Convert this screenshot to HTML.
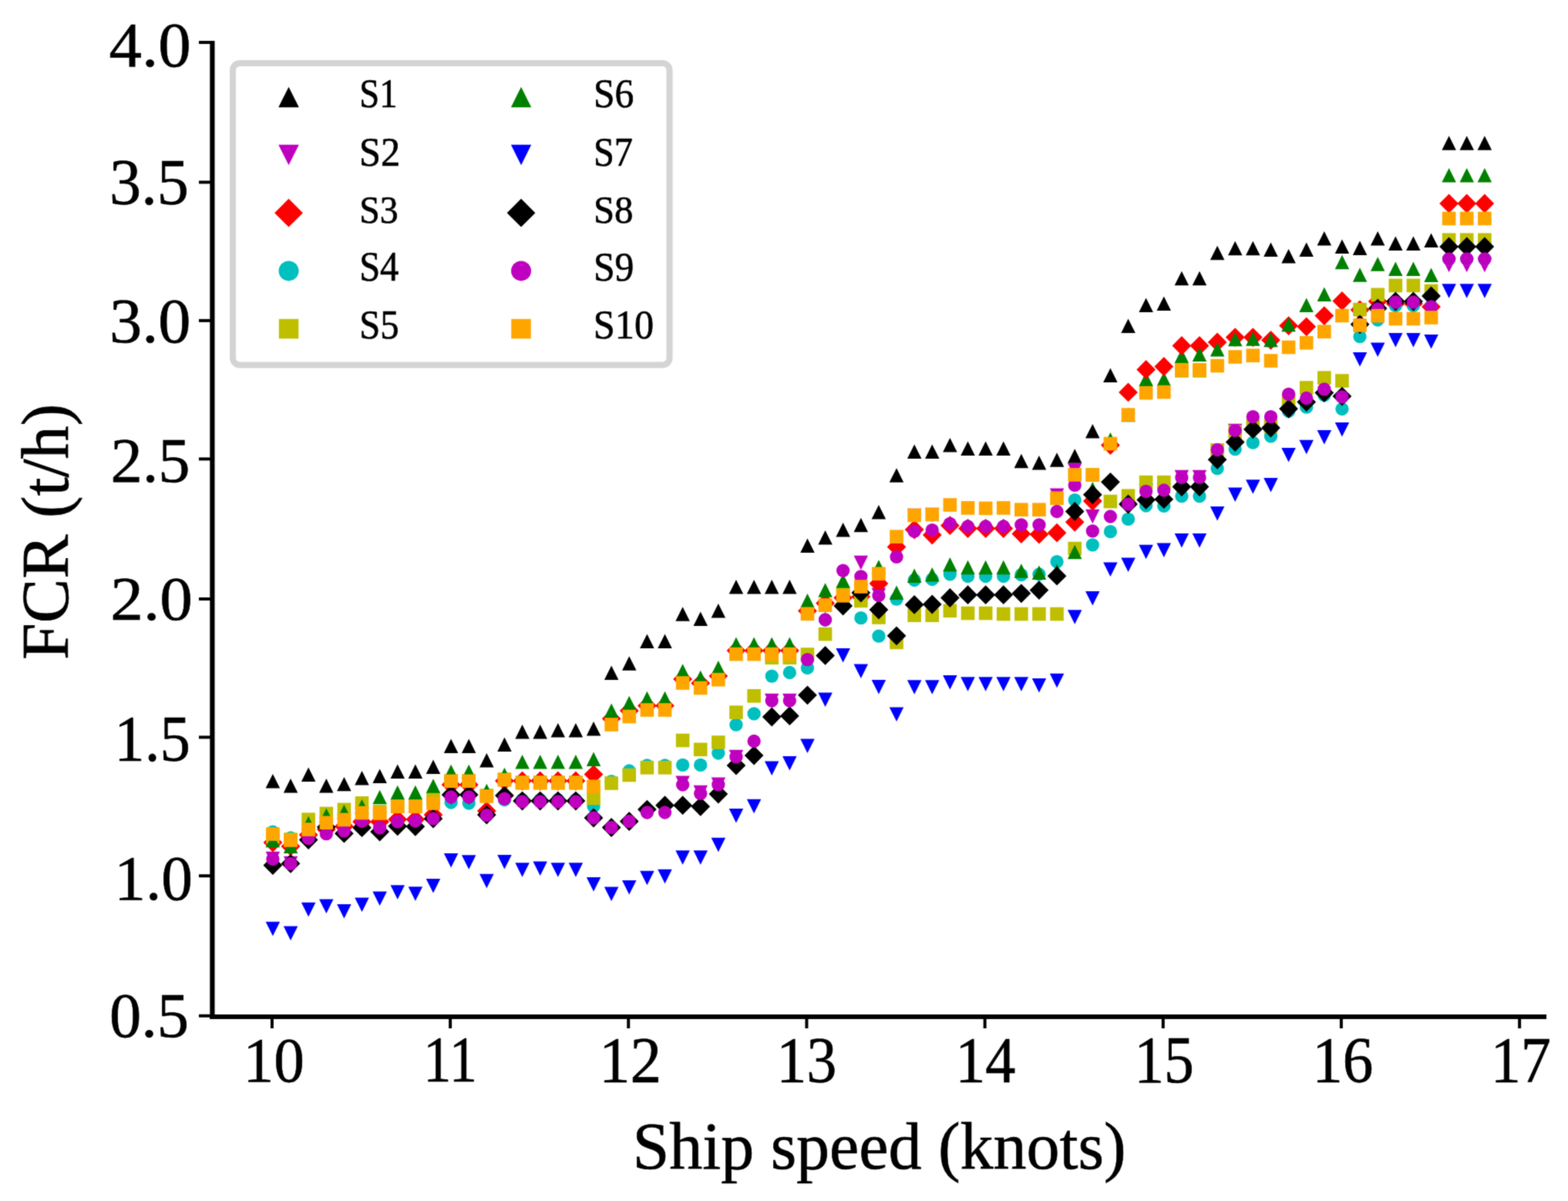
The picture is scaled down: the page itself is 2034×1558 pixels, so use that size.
<!DOCTYPE html>
<html><head><meta charset="utf-8"><title>FCR vs Ship speed</title>
<style>html,body{margin:0;padding:0;background:#fff;overflow:hidden}svg{display:block}text{stroke:#000;stroke-width:0.7px}</style>
</head><body><svg width="2034" height="1558" viewBox="0 0 2034 1558" font-family="'Liberation Serif', 'Times New Roman', serif" fill="#000"><defs><filter id="soft" x="0" y="0" width="2034" height="1558" filterUnits="userSpaceOnUse" color-interpolation-filters="sRGB"><feConvolveMatrix order="3" kernelMatrix="1 4 1 4 16 4 1 4 1" divisor="36" edgeMode="duplicate"/></filter></defs><g filter="url(#soft)"><rect x="0" y="0" width="2034" height="1558" fill="#fff"/><line x1="275.4" y1="53" x2="275.4" y2="1322" stroke="#000" stroke-width="6.2"/><line x1="272.3" y1="1319" x2="2006" y2="1319" stroke="#000" stroke-width="6.2"/><line x1="258" y1="1317.8" x2="273" y2="1317.8" stroke="#000" stroke-width="4"/><text transform="translate(141.92,1344.78) scale(0.9604,0.9583)" font-size="86">0.5</text><line x1="258" y1="1136.2" x2="273" y2="1136.2" stroke="#000" stroke-width="4"/><text transform="translate(148.17,1166.8) scale(0.9469,0.9517)" font-size="86">1.0</text><line x1="258" y1="956.4" x2="273" y2="956.4" stroke="#000" stroke-width="4"/><text transform="translate(148.28,986.51) scale(0.9165,0.9914)" font-size="86">1.5</text><line x1="258" y1="777.0" x2="273" y2="777.0" stroke="#000" stroke-width="4"/><text transform="translate(143.33,803.71) scale(0.9902,0.9467)" font-size="86">2.0</text><line x1="258" y1="595.4" x2="273" y2="595.4" stroke="#000" stroke-width="4"/><text transform="translate(143.42,625.43) scale(0.9594,0.9695)" font-size="86">2.5</text><line x1="258" y1="415.9" x2="273" y2="415.9" stroke="#000" stroke-width="4"/><text transform="translate(141.97,443.56) scale(0.9822,0.9683)" font-size="86">3.0</text><line x1="258" y1="236.4" x2="273" y2="236.4" stroke="#000" stroke-width="4"/><text transform="translate(142.08,265.41) scale(0.955,0.9949)" font-size="86">3.5</text><line x1="258" y1="55.0" x2="273" y2="55.0" stroke="#000" stroke-width="4"/><text transform="translate(141.51,85.87) scale(0.9875,0.9633)" font-size="86">4.0</text><line x1="352.9" y1="1321" x2="352.9" y2="1334" stroke="#000" stroke-width="4"/><text transform="translate(315.55,1403.07) scale(0.9211,0.9667)" font-size="86">10</text><line x1="584.1" y1="1321" x2="584.1" y2="1334" stroke="#000" stroke-width="4"/><text transform="translate(549.22,1403.21) scale(0.8394,0.9897)" font-size="86">11</text><line x1="815.2" y1="1321" x2="815.2" y2="1334" stroke="#000" stroke-width="4"/><text transform="translate(776.89,1404.03) scale(0.944,0.9746)" font-size="86">12</text><line x1="1046.4" y1="1321" x2="1046.4" y2="1334" stroke="#000" stroke-width="4"/><text transform="translate(1007.24,1404.02) scale(0.9092,0.9831)" font-size="86">13</text><line x1="1277.6" y1="1321" x2="1277.6" y2="1334" stroke="#000" stroke-width="4"/><text transform="translate(1239.15,1403.51) scale(0.9077,0.9914)" font-size="86">14</text><line x1="1508.8" y1="1321" x2="1508.8" y2="1334" stroke="#000" stroke-width="4"/><text transform="translate(1471.29,1403.9) scale(0.9013,1.0034)" font-size="86">15</text><line x1="1739.9" y1="1321" x2="1739.9" y2="1334" stroke="#000" stroke-width="4"/><text transform="translate(1702.25,1404.21) scale(0.9208,0.9915)" font-size="86">16</text><line x1="1971.1" y1="1321" x2="1971.1" y2="1334" stroke="#000" stroke-width="4"/><text transform="translate(1933.64,1403.51) scale(0.9091,0.9914)" font-size="86">17</text><text x="1140.5" y="1516" text-anchor="middle" font-size="86">Ship speed (knots)</text><text transform="translate(88,690) rotate(-90)" text-anchor="middle" font-size="86">FCR (t/h)</text><path d="M353.9,1003.9L363.1,1022.4L344.6,1022.4Z" fill="#000000"/><path d="M377.0,1010.0L386.3,1028.5L367.8,1028.5Z" fill="#000000"/><path d="M400.1,995.5L409.4,1014.0L390.9,1014.0Z" fill="#000000"/><path d="M423.3,1010.0L432.5,1028.5L414.0,1028.5Z" fill="#000000"/><path d="M446.4,1007.9L455.6,1026.3L437.1,1026.3Z" fill="#000000"/><path d="M469.5,1000.0L478.7,1018.5L460.2,1018.5Z" fill="#000000"/><path d="M492.6,997.6L501.9,1016.1L483.4,1016.1Z" fill="#000000"/><path d="M515.7,991.5L525.0,1010.0L506.5,1010.0Z" fill="#000000"/><path d="M538.8,991.5L548.1,1010.0L529.6,1010.0Z" fill="#000000"/><path d="M562.0,985.4L571.2,1003.9L552.7,1003.9Z" fill="#000000"/><path d="M585.1,958.5L594.3,977.0L575.8,977.0Z" fill="#000000"/><path d="M608.2,958.5L617.4,977.0L598.9,977.0Z" fill="#000000"/><path d="M631.3,977.1L640.6,995.6L622.1,995.6Z" fill="#000000"/><path d="M654.4,956.5L663.7,975.0L645.2,975.0Z" fill="#000000"/><path d="M677.5,940.0L686.8,958.5L668.3,958.5Z" fill="#000000"/><path d="M700.7,940.0L709.9,958.5L691.4,958.5Z" fill="#000000"/><path d="M723.8,938.0L733.0,956.5L714.5,956.5Z" fill="#000000"/><path d="M746.9,938.0L756.1,956.5L737.6,956.5Z" fill="#000000"/><path d="M770.0,936.0L779.3,954.5L760.8,954.5Z" fill="#000000"/><path d="M793.1,863.5L802.4,882.0L783.9,882.0Z" fill="#000000"/><path d="M816.2,851.2L825.5,869.8L807.0,869.8Z" fill="#000000"/><path d="M839.4,822.5L848.6,841.0L830.1,841.0Z" fill="#000000"/><path d="M862.5,822.5L871.7,841.0L853.2,841.0Z" fill="#000000"/><path d="M885.6,787.2L894.8,805.8L876.3,805.8Z" fill="#000000"/><path d="M908.7,793.4L918.0,811.9L899.5,811.9Z" fill="#000000"/><path d="M931.8,783.1L941.1,801.6L922.6,801.6Z" fill="#000000"/><path d="M954.9,752.1L964.2,770.6L945.7,770.6Z" fill="#000000"/><path d="M978.1,752.1L987.3,770.6L968.8,770.6Z" fill="#000000"/><path d="M1001.2,752.1L1010.4,770.6L991.9,770.6Z" fill="#000000"/><path d="M1024.3,752.1L1033.5,770.6L1015.0,770.6Z" fill="#000000"/><path d="M1047.4,698.5L1056.7,717.0L1038.2,717.0Z" fill="#000000"/><path d="M1070.5,688.0L1079.8,706.5L1061.3,706.5Z" fill="#000000"/><path d="M1093.6,678.0L1102.9,696.5L1084.4,696.5Z" fill="#000000"/><path d="M1116.8,671.8L1126.0,690.2L1107.5,690.2Z" fill="#000000"/><path d="M1139.9,655.0L1149.1,673.5L1130.6,673.5Z" fill="#000000"/><path d="M1163.0,607.2L1172.2,625.8L1153.7,625.8Z" fill="#000000"/><path d="M1186.1,576.5L1195.4,595.0L1176.9,595.0Z" fill="#000000"/><path d="M1209.2,576.5L1218.5,595.0L1200.0,595.0Z" fill="#000000"/><path d="M1232.3,568.0L1241.6,586.5L1223.1,586.5Z" fill="#000000"/><path d="M1255.5,572.6L1264.7,591.1L1246.2,591.1Z" fill="#000000"/><path d="M1278.6,572.6L1287.8,591.1L1269.3,591.1Z" fill="#000000"/><path d="M1301.7,572.6L1310.9,591.1L1292.4,591.1Z" fill="#000000"/><path d="M1324.8,588.8L1334.1,607.2L1315.6,607.2Z" fill="#000000"/><path d="M1347.9,591.1L1357.2,609.6L1338.7,609.6Z" fill="#000000"/><path d="M1371.0,587.2L1380.3,605.8L1361.8,605.8Z" fill="#000000"/><path d="M1394.2,582.2L1403.4,600.8L1384.9,600.8Z" fill="#000000"/><path d="M1417.3,549.9L1426.5,568.4L1408.0,568.4Z" fill="#000000"/><path d="M1440.4,477.6L1449.6,496.1L1431.1,496.1Z" fill="#000000"/><path d="M1463.5,413.6L1472.8,432.1L1454.3,432.1Z" fill="#000000"/><path d="M1486.6,386.6L1495.9,405.1L1477.4,405.1Z" fill="#000000"/><path d="M1509.8,384.6L1519.0,403.1L1500.5,403.1Z" fill="#000000"/><path d="M1532.9,351.8L1542.1,370.2L1523.6,370.2Z" fill="#000000"/><path d="M1556.0,351.8L1565.2,370.2L1546.7,370.2Z" fill="#000000"/><path d="M1579.1,318.8L1588.4,337.2L1569.9,337.2Z" fill="#000000"/><path d="M1602.2,312.8L1611.5,331.2L1593.0,331.2Z" fill="#000000"/><path d="M1625.3,312.8L1634.6,331.2L1616.1,331.2Z" fill="#000000"/><path d="M1648.5,314.4L1657.7,332.9L1639.2,332.9Z" fill="#000000"/><path d="M1671.6,323.1L1680.8,341.6L1662.3,341.6Z" fill="#000000"/><path d="M1694.7,314.4L1703.9,332.9L1685.4,332.9Z" fill="#000000"/><path d="M1717.8,299.9L1727.1,318.4L1708.6,318.4Z" fill="#000000"/><path d="M1740.9,310.4L1750.2,328.9L1731.7,328.9Z" fill="#000000"/><path d="M1764.0,312.6L1773.3,331.1L1754.8,331.1Z" fill="#000000"/><path d="M1787.2,299.9L1796.4,318.4L1777.9,318.4Z" fill="#000000"/><path d="M1810.3,306.4L1819.5,324.9L1801.0,324.9Z" fill="#000000"/><path d="M1833.4,306.4L1842.6,324.9L1824.1,324.9Z" fill="#000000"/><path d="M1856.5,302.4L1865.8,320.9L1847.3,320.9Z" fill="#000000"/><path d="M1879.6,176.2L1888.9,194.7L1870.4,194.7Z" fill="#000000"/><path d="M1902.7,176.2L1912.0,194.7L1893.5,194.7Z" fill="#000000"/><path d="M1925.9,176.2L1935.1,194.7L1916.6,194.7Z" fill="#000000"/><path d="M353.9,1123.2L363.1,1104.8L344.6,1104.8Z" fill="#bf00bf"/><path d="M377.0,1129.2L386.3,1110.8L367.8,1110.8Z" fill="#bf00bf"/><path d="M885.6,1024.8L894.8,1006.4L876.3,1006.4Z" fill="#bf00bf"/><path d="M908.7,1037.2L918.0,1018.8L899.5,1018.8Z" fill="#bf00bf"/><path d="M931.8,1027.2L941.1,1008.6L922.6,1008.6Z" fill="#bf00bf"/><path d="M954.9,991.2L964.2,972.8L945.7,972.8Z" fill="#bf00bf"/><path d="M1001.2,918.2L1010.4,899.8L991.9,899.8Z" fill="#bf00bf"/><path d="M1024.3,918.2L1033.5,899.8L1015.0,899.8Z" fill="#bf00bf"/><path d="M1116.8,739.2L1126.0,720.8L1107.5,720.8Z" fill="#bf00bf"/><path d="M1139.9,781.2L1149.1,762.8L1130.6,762.8Z" fill="#bf00bf"/><path d="M1186.1,678.2L1195.4,659.8L1176.9,659.8Z" fill="#bf00bf"/><path d="M1209.2,677.2L1218.5,658.8L1200.0,658.8Z" fill="#bf00bf"/><path d="M1371.0,651.9L1380.3,633.4L1361.8,633.4Z" fill="#bf00bf"/><path d="M1394.2,619.2L1403.4,600.8L1384.9,600.8Z" fill="#bf00bf"/><path d="M1417.3,679.2L1426.5,660.8L1408.0,660.8Z" fill="#bf00bf"/><path d="M1486.6,646.2L1495.9,627.8L1477.4,627.8Z" fill="#bf00bf"/><path d="M1509.8,645.2L1519.0,626.8L1500.5,626.8Z" fill="#bf00bf"/><path d="M1532.9,628.2L1542.1,609.8L1523.6,609.8Z" fill="#bf00bf"/><path d="M1556.0,628.2L1565.2,609.8L1546.7,609.8Z" fill="#bf00bf"/><path d="M1602.2,568.2L1611.5,549.8L1593.0,549.8Z" fill="#bf00bf"/><path d="M1879.6,353.2L1888.9,334.8L1870.4,334.8Z" fill="#bf00bf"/><path d="M1902.7,353.2L1912.0,334.8L1893.5,334.8Z" fill="#bf00bf"/><path d="M1925.9,353.2L1935.1,334.8L1916.6,334.8Z" fill="#bf00bf"/><path d="M353.9,1080.6L366.3,1093.0L353.9,1105.4L341.5,1093.0Z" fill="#ff0000"/><path d="M377.0,1085.6L389.4,1098.0L377.0,1110.4L364.6,1098.0Z" fill="#ff0000"/><path d="M400.1,1070.6L412.5,1083.0L400.1,1095.4L387.8,1083.0Z" fill="#ff0000"/><path d="M423.3,1063.6L435.6,1076.0L423.3,1088.4L410.9,1076.0Z" fill="#ff0000"/><path d="M446.4,1059.6L458.7,1072.0L446.4,1084.4L434.0,1072.0Z" fill="#ff0000"/><path d="M469.5,1053.6L481.9,1066.0L469.5,1078.4L457.1,1066.0Z" fill="#ff0000"/><path d="M492.6,1053.6L505.0,1066.0L492.6,1078.4L480.2,1066.0Z" fill="#ff0000"/><path d="M515.7,1050.6L528.1,1063.0L515.7,1075.4L503.3,1063.0Z" fill="#ff0000"/><path d="M538.8,1050.6L551.2,1063.0L538.8,1075.4L526.5,1063.0Z" fill="#ff0000"/><path d="M562.0,1044.6L574.3,1057.0L562.0,1069.4L549.6,1057.0Z" fill="#ff0000"/><path d="M585.1,1005.6L597.4,1018.0L585.1,1030.4L572.7,1018.0Z" fill="#ff0000"/><path d="M608.2,1005.6L620.6,1018.0L608.2,1030.4L595.8,1018.0Z" fill="#ff0000"/><path d="M631.3,1039.6L643.7,1052.0L631.3,1064.4L618.9,1052.0Z" fill="#ff0000"/><path d="M654.4,1000.6L666.8,1013.0L654.4,1025.4L642.0,1013.0Z" fill="#ff0000"/><path d="M677.5,1000.6L689.9,1013.0L677.5,1025.4L665.2,1013.0Z" fill="#ff0000"/><path d="M700.7,1000.6L713.0,1013.0L700.7,1025.4L688.3,1013.0Z" fill="#ff0000"/><path d="M723.8,1000.6L736.1,1013.0L723.8,1025.4L711.4,1013.0Z" fill="#ff0000"/><path d="M746.9,1000.6L759.3,1013.0L746.9,1025.4L734.5,1013.0Z" fill="#ff0000"/><path d="M770.0,992.2L782.4,1004.6L770.0,1017.0L757.6,1004.6Z" fill="#ff0000"/><path d="M793.1,919.9L805.5,932.3L793.1,944.7L780.8,932.3Z" fill="#ff0000"/><path d="M816.2,909.6L828.6,922.0L816.2,934.4L803.9,922.0Z" fill="#ff0000"/><path d="M839.4,903.2L851.7,915.6L839.4,928.0L827.0,915.6Z" fill="#ff0000"/><path d="M862.5,903.2L874.8,915.6L862.5,928.0L850.1,915.6Z" fill="#ff0000"/><path d="M885.6,868.6L898.0,881.0L885.6,893.4L873.2,881.0Z" fill="#ff0000"/><path d="M908.7,873.9L921.1,886.3L908.7,898.7L896.3,886.3Z" fill="#ff0000"/><path d="M931.8,864.6L944.2,877.0L931.8,889.4L919.5,877.0Z" fill="#ff0000"/><path d="M954.9,831.6L967.3,844.0L954.9,856.4L942.6,844.0Z" fill="#ff0000"/><path d="M978.1,831.6L990.4,844.0L978.1,856.4L965.7,844.0Z" fill="#ff0000"/><path d="M1001.2,831.6L1013.5,844.0L1001.2,856.4L988.8,844.0Z" fill="#ff0000"/><path d="M1024.3,831.6L1036.7,844.0L1024.3,856.4L1011.9,844.0Z" fill="#ff0000"/><path d="M1047.4,780.1L1059.8,792.5L1047.4,804.9L1035.0,792.5Z" fill="#ff0000"/><path d="M1070.5,770.1L1082.9,782.5L1070.5,794.9L1058.2,782.5Z" fill="#ff0000"/><path d="M1093.6,763.1L1106.0,775.5L1093.6,787.9L1081.3,775.5Z" fill="#ff0000"/><path d="M1116.8,761.6L1129.1,774.0L1116.8,786.4L1104.4,774.0Z" fill="#ff0000"/><path d="M1139.9,744.6L1152.3,757.0L1139.9,769.4L1127.5,757.0Z" fill="#ff0000"/><path d="M1163.0,697.0L1175.4,709.4L1163.0,721.8L1150.6,709.4Z" fill="#ff0000"/><path d="M1186.1,674.6L1198.5,687.0L1186.1,699.4L1173.7,687.0Z" fill="#ff0000"/><path d="M1209.2,681.6L1221.6,694.0L1209.2,706.4L1196.9,694.0Z" fill="#ff0000"/><path d="M1232.3,669.3L1244.7,681.7L1232.3,694.1L1220.0,681.7Z" fill="#ff0000"/><path d="M1255.5,673.1L1267.8,685.5L1255.5,697.9L1243.1,685.5Z" fill="#ff0000"/><path d="M1278.6,673.1L1291.0,685.5L1278.6,697.9L1266.2,685.5Z" fill="#ff0000"/><path d="M1301.7,673.1L1314.1,685.5L1301.7,697.9L1289.3,685.5Z" fill="#ff0000"/><path d="M1324.8,680.1L1337.2,692.5L1324.8,704.9L1312.4,692.5Z" fill="#ff0000"/><path d="M1347.9,680.8L1360.3,693.2L1347.9,705.6L1335.6,693.2Z" fill="#ff0000"/><path d="M1371.0,678.8L1383.4,691.2L1371.0,703.6L1358.7,691.2Z" fill="#ff0000"/><path d="M1394.2,664.9L1406.5,677.3L1394.2,689.7L1381.8,677.3Z" fill="#ff0000"/><path d="M1417.3,637.6L1429.7,650.0L1417.3,662.4L1404.9,650.0Z" fill="#ff0000"/><path d="M1440.4,565.2L1452.8,577.6L1440.4,590.0L1428.0,577.6Z" fill="#ff0000"/><path d="M1463.5,496.5L1475.9,508.9L1463.5,521.3L1451.1,508.9Z" fill="#ff0000"/><path d="M1556.0,436.1L1568.4,448.5L1556.0,460.9L1543.6,448.5Z" fill="#ff0000"/><path d="M1579.1,431.5L1591.5,443.9L1579.1,456.3L1566.7,443.9Z" fill="#ff0000"/><path d="M1602.2,425.2L1614.6,437.6L1602.2,450.0L1589.8,437.6Z" fill="#ff0000"/><path d="M1625.3,425.2L1637.7,437.6L1625.3,450.0L1613.0,437.6Z" fill="#ff0000"/><path d="M1648.5,428.9L1660.8,441.3L1648.5,453.7L1636.1,441.3Z" fill="#ff0000"/><path d="M1671.6,410.2L1683.9,422.6L1671.6,435.0L1659.2,422.6Z" fill="#ff0000"/><path d="M1694.7,411.4L1707.1,423.8L1694.7,436.2L1682.3,423.8Z" fill="#ff0000"/><path d="M1717.8,397.2L1730.2,409.6L1717.8,422.0L1705.4,409.6Z" fill="#ff0000"/><path d="M1740.9,378.1L1753.3,390.5L1740.9,402.9L1728.5,390.5Z" fill="#ff0000"/><path d="M1764.0,389.6L1776.4,402.0L1764.0,414.4L1751.7,402.0Z" fill="#ff0000"/><path d="M1787.2,378.6L1799.5,391.0L1787.2,403.4L1774.8,391.0Z" fill="#ff0000"/><path d="M1810.3,381.6L1822.6,394.0L1810.3,406.4L1797.9,394.0Z" fill="#ff0000"/><path d="M1833.4,381.6L1845.8,394.0L1833.4,406.4L1821.0,394.0Z" fill="#ff0000"/><path d="M1856.5,385.6L1868.9,398.0L1856.5,410.4L1844.1,398.0Z" fill="#ff0000"/><path d="M1879.6,251.6L1892.0,264.0L1879.6,276.4L1867.2,264.0Z" fill="#ff0000"/><path d="M1902.7,251.6L1915.1,264.0L1902.7,276.4L1890.4,264.0Z" fill="#ff0000"/><path d="M1925.9,251.6L1938.2,264.0L1925.9,276.4L1913.5,264.0Z" fill="#ff0000"/><circle cx="353.9" cy="1079.2" r="8.65" fill="#00bfbf"/><circle cx="377.0" cy="1086.9" r="8.65" fill="#00bfbf"/><circle cx="400.1" cy="1075.0" r="8.65" fill="#00bfbf"/><circle cx="423.3" cy="1068.0" r="8.65" fill="#00bfbf"/><circle cx="446.4" cy="1065.0" r="8.65" fill="#00bfbf"/><circle cx="469.5" cy="1055.0" r="8.65" fill="#00bfbf"/><circle cx="492.6" cy="1055.0" r="8.65" fill="#00bfbf"/><circle cx="515.7" cy="1046.5" r="8.65" fill="#00bfbf"/><circle cx="538.8" cy="1046.5" r="8.65" fill="#00bfbf"/><circle cx="562.0" cy="1042.5" r="8.65" fill="#00bfbf"/><circle cx="585.1" cy="1041.0" r="8.65" fill="#00bfbf"/><circle cx="608.2" cy="1042.0" r="8.65" fill="#00bfbf"/><circle cx="631.3" cy="1058.0" r="8.65" fill="#00bfbf"/><circle cx="654.4" cy="1037.5" r="8.65" fill="#00bfbf"/><circle cx="677.5" cy="1037.5" r="8.65" fill="#00bfbf"/><circle cx="700.7" cy="1037.5" r="8.65" fill="#00bfbf"/><circle cx="723.8" cy="1037.5" r="8.65" fill="#00bfbf"/><circle cx="746.9" cy="1037.5" r="8.65" fill="#00bfbf"/><circle cx="770.0" cy="1046.0" r="8.65" fill="#00bfbf"/><circle cx="793.1" cy="1013.6" r="8.65" fill="#00bfbf"/><circle cx="816.2" cy="1000.0" r="8.65" fill="#00bfbf"/><circle cx="839.4" cy="992.9" r="8.65" fill="#00bfbf"/><circle cx="862.5" cy="992.9" r="8.65" fill="#00bfbf"/><circle cx="885.6" cy="992.4" r="8.65" fill="#00bfbf"/><circle cx="908.7" cy="992.4" r="8.65" fill="#00bfbf"/><circle cx="931.8" cy="977.0" r="8.65" fill="#00bfbf"/><circle cx="954.9" cy="940.2" r="8.65" fill="#00bfbf"/><circle cx="978.1" cy="925.9" r="8.65" fill="#00bfbf"/><circle cx="1001.2" cy="877.1" r="8.65" fill="#00bfbf"/><circle cx="1024.3" cy="872.5" r="8.65" fill="#00bfbf"/><circle cx="1047.4" cy="866.4" r="8.65" fill="#00bfbf"/><circle cx="1070.5" cy="804.0" r="8.65" fill="#00bfbf"/><circle cx="1093.6" cy="773.0" r="8.65" fill="#00bfbf"/><circle cx="1116.8" cy="801.7" r="8.65" fill="#00bfbf"/><circle cx="1139.9" cy="825.2" r="8.65" fill="#00bfbf"/><circle cx="1163.0" cy="777.1" r="8.65" fill="#00bfbf"/><circle cx="1186.1" cy="752.5" r="8.65" fill="#00bfbf"/><circle cx="1209.2" cy="751.5" r="8.65" fill="#00bfbf"/><circle cx="1232.3" cy="744.8" r="8.65" fill="#00bfbf"/><circle cx="1255.5" cy="747.5" r="8.65" fill="#00bfbf"/><circle cx="1278.6" cy="747.5" r="8.65" fill="#00bfbf"/><circle cx="1301.7" cy="747.5" r="8.65" fill="#00bfbf"/><circle cx="1324.8" cy="745.6" r="8.65" fill="#00bfbf"/><circle cx="1347.9" cy="745.0" r="8.65" fill="#00bfbf"/><circle cx="1371.0" cy="728.7" r="8.65" fill="#00bfbf"/><circle cx="1394.2" cy="648.7" r="8.65" fill="#00bfbf"/><circle cx="1417.3" cy="706.8" r="8.65" fill="#00bfbf"/><circle cx="1440.4" cy="689.7" r="8.65" fill="#00bfbf"/><circle cx="1463.5" cy="673.4" r="8.65" fill="#00bfbf"/><circle cx="1486.6" cy="656.0" r="8.65" fill="#00bfbf"/><circle cx="1509.8" cy="656.3" r="8.65" fill="#00bfbf"/><circle cx="1532.9" cy="643.6" r="8.65" fill="#00bfbf"/><circle cx="1556.0" cy="643.6" r="8.65" fill="#00bfbf"/><circle cx="1579.1" cy="607.6" r="8.65" fill="#00bfbf"/><circle cx="1602.2" cy="582.7" r="8.65" fill="#00bfbf"/><circle cx="1625.3" cy="574.2" r="8.65" fill="#00bfbf"/><circle cx="1648.5" cy="565.8" r="8.65" fill="#00bfbf"/><circle cx="1671.6" cy="533.4" r="8.65" fill="#00bfbf"/><circle cx="1694.7" cy="528.2" r="8.65" fill="#00bfbf"/><circle cx="1717.8" cy="512.6" r="8.65" fill="#00bfbf"/><circle cx="1740.9" cy="530.5" r="8.65" fill="#00bfbf"/><circle cx="1764.0" cy="436.6" r="8.65" fill="#00bfbf"/><circle cx="1787.2" cy="415.0" r="8.65" fill="#00bfbf"/><circle cx="1810.3" cy="396.4" r="8.65" fill="#00bfbf"/><circle cx="1833.4" cy="396.4" r="8.65" fill="#00bfbf"/><circle cx="1856.5" cy="397.0" r="8.65" fill="#00bfbf"/><circle cx="1879.6" cy="336.0" r="8.65" fill="#00bfbf"/><circle cx="1902.7" cy="336.0" r="8.65" fill="#00bfbf"/><circle cx="1925.9" cy="336.0" r="8.65" fill="#00bfbf"/><rect x="345.1" y="1077.2" width="17.6" height="17.6" fill="#bfbf00"/><rect x="368.2" y="1080.2" width="17.6" height="17.6" fill="#bfbf00"/><rect x="391.3" y="1054.3" width="17.6" height="17.6" fill="#bfbf00"/><rect x="414.5" y="1046.6" width="17.6" height="17.6" fill="#bfbf00"/><rect x="437.6" y="1041.5" width="17.6" height="17.6" fill="#bfbf00"/><rect x="460.7" y="1033.0" width="17.6" height="17.6" fill="#bfbf00"/><rect x="483.8" y="1044.2" width="17.6" height="17.6" fill="#bfbf00"/><rect x="506.9" y="1037.2" width="17.6" height="17.6" fill="#bfbf00"/><rect x="530.0" y="1037.2" width="17.6" height="17.6" fill="#bfbf00"/><rect x="553.2" y="1027.5" width="17.6" height="17.6" fill="#bfbf00"/><rect x="576.3" y="1004.2" width="17.6" height="17.6" fill="#bfbf00"/><rect x="599.4" y="1004.2" width="17.6" height="17.6" fill="#bfbf00"/><rect x="622.5" y="1023.2" width="17.6" height="17.6" fill="#bfbf00"/><rect x="645.6" y="1002.2" width="17.6" height="17.6" fill="#bfbf00"/><rect x="668.7" y="1006.2" width="17.6" height="17.6" fill="#bfbf00"/><rect x="691.9" y="1006.2" width="17.6" height="17.6" fill="#bfbf00"/><rect x="715.0" y="1006.2" width="17.6" height="17.6" fill="#bfbf00"/><rect x="738.1" y="1006.2" width="17.6" height="17.6" fill="#bfbf00"/><rect x="761.2" y="1026.7" width="17.6" height="17.6" fill="#bfbf00"/><rect x="784.3" y="1007.2" width="17.6" height="17.6" fill="#bfbf00"/><rect x="807.4" y="996.7" width="17.6" height="17.6" fill="#bfbf00"/><rect x="830.6" y="987.0" width="17.6" height="17.6" fill="#bfbf00"/><rect x="853.7" y="987.0" width="17.6" height="17.6" fill="#bfbf00"/><rect x="876.8" y="951.7" width="17.6" height="17.6" fill="#bfbf00"/><rect x="899.9" y="963.5" width="17.6" height="17.6" fill="#bfbf00"/><rect x="923.0" y="954.2" width="17.6" height="17.6" fill="#bfbf00"/><rect x="946.1" y="915.3" width="17.6" height="17.6" fill="#bfbf00"/><rect x="969.3" y="894.0" width="17.6" height="17.6" fill="#bfbf00"/><rect x="992.4" y="844.4" width="17.6" height="17.6" fill="#bfbf00"/><rect x="1015.5" y="844.4" width="17.6" height="17.6" fill="#bfbf00"/><rect x="1038.6" y="840.2" width="17.6" height="17.6" fill="#bfbf00"/><rect x="1061.7" y="813.8" width="17.6" height="17.6" fill="#bfbf00"/><rect x="1084.8" y="761.7" width="17.6" height="17.6" fill="#bfbf00"/><rect x="1108.0" y="770.6" width="17.6" height="17.6" fill="#bfbf00"/><rect x="1131.1" y="792.2" width="17.6" height="17.6" fill="#bfbf00"/><rect x="1154.2" y="824.6" width="17.6" height="17.6" fill="#bfbf00"/><rect x="1177.3" y="789.4" width="17.6" height="17.6" fill="#bfbf00"/><rect x="1200.4" y="789.4" width="17.6" height="17.6" fill="#bfbf00"/><rect x="1223.5" y="783.5" width="17.6" height="17.6" fill="#bfbf00"/><rect x="1246.7" y="786.7" width="17.6" height="17.6" fill="#bfbf00"/><rect x="1269.8" y="786.7" width="17.6" height="17.6" fill="#bfbf00"/><rect x="1292.9" y="787.7" width="17.6" height="17.6" fill="#bfbf00"/><rect x="1316.0" y="787.7" width="17.6" height="17.6" fill="#bfbf00"/><rect x="1339.1" y="787.7" width="17.6" height="17.6" fill="#bfbf00"/><rect x="1362.2" y="787.7" width="17.6" height="17.6" fill="#bfbf00"/><rect x="1385.4" y="702.8" width="17.6" height="17.6" fill="#bfbf00"/><rect x="1408.5" y="607.2" width="17.6" height="17.6" fill="#bfbf00"/><rect x="1431.6" y="641.7" width="17.6" height="17.6" fill="#bfbf00"/><rect x="1454.7" y="634.4" width="17.6" height="17.6" fill="#bfbf00"/><rect x="1477.8" y="616.8" width="17.6" height="17.6" fill="#bfbf00"/><rect x="1501.0" y="616.8" width="17.6" height="17.6" fill="#bfbf00"/><rect x="1524.1" y="472.2" width="17.6" height="17.6" fill="#bfbf00"/><rect x="1547.2" y="472.2" width="17.6" height="17.6" fill="#bfbf00"/><rect x="1570.3" y="575.1" width="17.6" height="17.6" fill="#bfbf00"/><rect x="1593.4" y="551.2" width="17.6" height="17.6" fill="#bfbf00"/><rect x="1616.5" y="544.2" width="17.6" height="17.6" fill="#bfbf00"/><rect x="1639.7" y="544.2" width="17.6" height="17.6" fill="#bfbf00"/><rect x="1662.8" y="511.2" width="17.6" height="17.6" fill="#bfbf00"/><rect x="1685.9" y="494.2" width="17.6" height="17.6" fill="#bfbf00"/><rect x="1709.0" y="481.3" width="17.6" height="17.6" fill="#bfbf00"/><rect x="1732.1" y="485.2" width="17.6" height="17.6" fill="#bfbf00"/><rect x="1755.2" y="392.8" width="17.6" height="17.6" fill="#bfbf00"/><rect x="1778.4" y="373.5" width="17.6" height="17.6" fill="#bfbf00"/><rect x="1801.5" y="361.6" width="17.6" height="17.6" fill="#bfbf00"/><rect x="1824.6" y="361.6" width="17.6" height="17.6" fill="#bfbf00"/><rect x="1847.7" y="368.7" width="17.6" height="17.6" fill="#bfbf00"/><rect x="1870.8" y="302.4" width="17.6" height="17.6" fill="#bfbf00"/><rect x="1893.9" y="302.4" width="17.6" height="17.6" fill="#bfbf00"/><rect x="1917.1" y="302.4" width="17.6" height="17.6" fill="#bfbf00"/><path d="M353.9,1080.8L363.1,1099.2L344.6,1099.2Z" fill="#008000"/><path d="M377.0,1088.5L386.3,1107.0L367.8,1107.0Z" fill="#008000"/><path d="M400.1,1058.8L409.4,1077.2L390.9,1077.2Z" fill="#008000"/><path d="M423.3,1048.5L432.5,1067.0L414.0,1067.0Z" fill="#008000"/><path d="M446.4,1043.8L455.6,1062.2L437.1,1062.2Z" fill="#008000"/><path d="M469.5,1036.8L478.7,1055.2L460.2,1055.2Z" fill="#008000"/><path d="M492.6,1024.8L501.9,1043.2L483.4,1043.2Z" fill="#008000"/><path d="M515.7,1018.8L525.0,1037.2L506.5,1037.2Z" fill="#008000"/><path d="M538.8,1018.8L548.1,1037.2L529.6,1037.2Z" fill="#008000"/><path d="M562.0,1010.2L571.2,1028.8L552.7,1028.8Z" fill="#008000"/><path d="M585.1,991.8L594.3,1010.2L575.8,1010.2Z" fill="#008000"/><path d="M608.2,991.8L617.4,1010.2L598.9,1010.2Z" fill="#008000"/><path d="M631.3,1016.8L640.6,1035.2L622.1,1035.2Z" fill="#008000"/><path d="M654.4,995.8L663.7,1014.2L645.2,1014.2Z" fill="#008000"/><path d="M677.5,979.0L686.8,997.5L668.3,997.5Z" fill="#008000"/><path d="M700.7,979.0L709.9,997.5L691.4,997.5Z" fill="#008000"/><path d="M723.8,979.0L733.0,997.5L714.5,997.5Z" fill="#008000"/><path d="M746.9,979.0L756.1,997.5L737.6,997.5Z" fill="#008000"/><path d="M770.0,975.5L779.3,994.0L760.8,994.0Z" fill="#008000"/><path d="M793.1,912.4L802.4,930.9L783.9,930.9Z" fill="#008000"/><path d="M816.2,902.8L825.5,921.2L807.0,921.2Z" fill="#008000"/><path d="M839.4,896.8L848.6,915.2L830.1,915.2Z" fill="#008000"/><path d="M862.5,896.8L871.7,915.2L853.2,915.2Z" fill="#008000"/><path d="M885.6,861.2L894.8,879.8L876.3,879.8Z" fill="#008000"/><path d="M908.7,869.8L918.0,888.2L899.5,888.2Z" fill="#008000"/><path d="M931.8,856.9L941.1,875.4L922.6,875.4Z" fill="#008000"/><path d="M954.9,826.6L964.2,845.1L945.7,845.1Z" fill="#008000"/><path d="M978.1,826.6L987.3,845.1L968.8,845.1Z" fill="#008000"/><path d="M1001.2,826.6L1010.4,845.1L991.9,845.1Z" fill="#008000"/><path d="M1024.3,826.6L1033.5,845.1L1015.0,845.1Z" fill="#008000"/><path d="M1047.4,770.1L1056.7,788.6L1038.2,788.6Z" fill="#008000"/><path d="M1070.5,756.2L1079.8,774.8L1061.3,774.8Z" fill="#008000"/><path d="M1093.6,744.2L1102.9,762.8L1084.4,762.8Z" fill="#008000"/><path d="M1116.8,740.8L1126.0,759.2L1107.5,759.2Z" fill="#008000"/><path d="M1139.9,726.2L1149.1,744.8L1130.6,744.8Z" fill="#008000"/><path d="M1163.0,759.5L1172.2,778.0L1153.7,778.0Z" fill="#008000"/><path d="M1186.1,737.5L1195.4,756.0L1176.9,756.0Z" fill="#008000"/><path d="M1209.2,736.0L1218.5,754.5L1200.0,754.5Z" fill="#008000"/><path d="M1232.3,723.0L1241.6,741.5L1223.1,741.5Z" fill="#008000"/><path d="M1255.5,726.8L1264.7,745.2L1246.2,745.2Z" fill="#008000"/><path d="M1278.6,726.8L1287.8,745.2L1269.3,745.2Z" fill="#008000"/><path d="M1301.7,726.8L1310.9,745.2L1292.4,745.2Z" fill="#008000"/><path d="M1324.8,731.2L1334.1,749.8L1315.6,749.8Z" fill="#008000"/><path d="M1347.9,733.5L1357.2,752.0L1338.7,752.0Z" fill="#008000"/><path d="M1371.0,731.8L1380.3,750.2L1361.8,750.2Z" fill="#008000"/><path d="M1394.2,706.8L1403.4,725.2L1384.9,725.2Z" fill="#008000"/><path d="M1417.3,625.0L1426.5,643.5L1408.0,643.5Z" fill="#008000"/><path d="M1440.4,561.0L1449.6,579.5L1431.1,579.5Z" fill="#008000"/><path d="M1463.5,528.8L1472.8,547.2L1454.3,547.2Z" fill="#008000"/><path d="M1486.6,482.6L1495.9,501.1L1477.4,501.1Z" fill="#008000"/><path d="M1509.8,482.6L1519.0,501.1L1500.5,501.1Z" fill="#008000"/><path d="M1532.9,452.4L1542.1,470.9L1523.6,470.9Z" fill="#008000"/><path d="M1556.0,450.6L1565.2,469.1L1546.7,469.1Z" fill="#008000"/><path d="M1579.1,443.9L1588.4,462.4L1569.9,462.4Z" fill="#008000"/><path d="M1602.2,430.8L1611.5,449.2L1593.0,449.2Z" fill="#008000"/><path d="M1625.3,430.2L1634.6,448.8L1616.1,448.8Z" fill="#008000"/><path d="M1648.5,431.8L1657.7,450.2L1639.2,450.2Z" fill="#008000"/><path d="M1671.6,411.8L1680.8,430.2L1662.3,430.2Z" fill="#008000"/><path d="M1694.7,386.6L1703.9,405.1L1685.4,405.1Z" fill="#008000"/><path d="M1717.8,372.6L1727.1,391.1L1708.6,391.1Z" fill="#008000"/><path d="M1740.9,330.8L1750.2,349.2L1731.7,349.2Z" fill="#008000"/><path d="M1764.0,347.2L1773.3,365.8L1754.8,365.8Z" fill="#008000"/><path d="M1787.2,333.2L1796.4,351.8L1777.9,351.8Z" fill="#008000"/><path d="M1810.3,339.4L1819.5,357.9L1801.0,357.9Z" fill="#008000"/><path d="M1833.4,339.4L1842.6,357.9L1824.1,357.9Z" fill="#008000"/><path d="M1856.5,347.4L1865.8,365.9L1847.3,365.9Z" fill="#008000"/><path d="M1879.6,217.9L1888.9,236.4L1870.4,236.4Z" fill="#008000"/><path d="M1902.7,217.9L1912.0,236.4L1893.5,236.4Z" fill="#008000"/><path d="M1925.9,217.9L1935.1,236.4L1916.6,236.4Z" fill="#008000"/><path d="M1486.6,467.0L1499.0,479.4L1486.6,491.8L1474.3,479.4Z" fill="#ff0000"/><path d="M1509.8,463.1L1522.1,475.5L1509.8,487.9L1497.4,475.5Z" fill="#ff0000"/><path d="M1532.9,436.1L1545.2,448.5L1532.9,460.9L1520.5,448.5Z" fill="#ff0000"/><path d="M353.9,1214.2L363.1,1195.8L344.6,1195.8Z" fill="#0000ff"/><path d="M377.0,1220.0L386.3,1201.5L367.8,1201.5Z" fill="#0000ff"/><path d="M400.1,1189.2L409.4,1170.8L390.9,1170.8Z" fill="#0000ff"/><path d="M423.3,1185.0L432.5,1166.5L414.0,1166.5Z" fill="#0000ff"/><path d="M446.4,1191.5L455.6,1173.0L437.1,1173.0Z" fill="#0000ff"/><path d="M469.5,1183.0L478.7,1164.5L460.2,1164.5Z" fill="#0000ff"/><path d="M492.6,1175.0L501.9,1156.5L483.4,1156.5Z" fill="#0000ff"/><path d="M515.7,1166.8L525.0,1148.2L506.5,1148.2Z" fill="#0000ff"/><path d="M538.8,1168.8L548.1,1150.2L529.6,1150.2Z" fill="#0000ff"/><path d="M562.0,1158.5L571.2,1140.0L552.7,1140.0Z" fill="#0000ff"/><path d="M585.1,1125.5L594.3,1107.0L575.8,1107.0Z" fill="#0000ff"/><path d="M608.2,1127.8L617.4,1109.3L598.9,1109.3Z" fill="#0000ff"/><path d="M631.3,1152.2L640.6,1133.8L622.1,1133.8Z" fill="#0000ff"/><path d="M654.4,1127.5L663.7,1109.0L645.2,1109.0Z" fill="#0000ff"/><path d="M677.5,1137.8L686.8,1119.3L668.3,1119.3Z" fill="#0000ff"/><path d="M700.7,1136.0L709.9,1117.5L691.4,1117.5Z" fill="#0000ff"/><path d="M723.8,1137.8L733.0,1119.3L714.5,1119.3Z" fill="#0000ff"/><path d="M746.9,1137.8L756.1,1119.3L737.6,1119.3Z" fill="#0000ff"/><path d="M770.0,1156.5L779.3,1138.0L760.8,1138.0Z" fill="#0000ff"/><path d="M793.1,1169.0L802.4,1150.5L783.9,1150.5Z" fill="#0000ff"/><path d="M816.2,1160.5L825.5,1142.0L807.0,1142.0Z" fill="#0000ff"/><path d="M839.4,1148.2L848.6,1129.8L830.1,1129.8Z" fill="#0000ff"/><path d="M862.5,1146.2L871.7,1127.7L853.2,1127.7Z" fill="#0000ff"/><path d="M885.6,1121.8L894.8,1103.2L876.3,1103.2Z" fill="#0000ff"/><path d="M908.7,1121.8L918.0,1103.2L899.5,1103.2Z" fill="#0000ff"/><path d="M931.8,1105.2L941.1,1086.7L922.6,1086.7Z" fill="#0000ff"/><path d="M954.9,1067.5L964.2,1049.0L945.7,1049.0Z" fill="#0000ff"/><path d="M978.1,1055.2L987.3,1036.8L968.8,1036.8Z" fill="#0000ff"/><path d="M1001.2,1006.0L1010.4,987.5L991.9,987.5Z" fill="#0000ff"/><path d="M1024.3,999.6L1033.5,981.1L1015.0,981.1Z" fill="#0000ff"/><path d="M1047.4,977.0L1056.7,958.5L1038.2,958.5Z" fill="#0000ff"/><path d="M1070.5,917.0L1079.8,898.5L1061.3,898.5Z" fill="#0000ff"/><path d="M1093.6,859.5L1102.9,841.0L1084.4,841.0Z" fill="#0000ff"/><path d="M1116.8,880.1L1126.0,861.6L1107.5,861.6Z" fill="#0000ff"/><path d="M1139.9,900.5L1149.1,882.0L1130.6,882.0Z" fill="#0000ff"/><path d="M1163.0,935.9L1172.2,917.4L1153.7,917.4Z" fill="#0000ff"/><path d="M1186.1,900.8L1195.4,882.2L1176.9,882.2Z" fill="#0000ff"/><path d="M1209.2,900.8L1218.5,882.2L1200.0,882.2Z" fill="#0000ff"/><path d="M1232.3,894.5L1241.6,876.0L1223.1,876.0Z" fill="#0000ff"/><path d="M1255.5,896.8L1264.7,878.2L1246.2,878.2Z" fill="#0000ff"/><path d="M1278.6,896.8L1287.8,878.2L1269.3,878.2Z" fill="#0000ff"/><path d="M1301.7,896.8L1310.9,878.2L1292.4,878.2Z" fill="#0000ff"/><path d="M1324.8,896.8L1334.1,878.2L1315.6,878.2Z" fill="#0000ff"/><path d="M1347.9,898.5L1357.2,880.0L1338.7,880.0Z" fill="#0000ff"/><path d="M1371.0,892.2L1380.3,873.8L1361.8,873.8Z" fill="#0000ff"/><path d="M1394.2,809.8L1403.4,791.2L1384.9,791.2Z" fill="#0000ff"/><path d="M1417.3,785.4L1426.5,766.9L1408.0,766.9Z" fill="#0000ff"/><path d="M1440.4,747.9L1449.6,729.4L1431.1,729.4Z" fill="#0000ff"/><path d="M1463.5,742.0L1472.8,723.5L1454.3,723.5Z" fill="#0000ff"/><path d="M1486.6,725.2L1495.9,706.8L1477.4,706.8Z" fill="#0000ff"/><path d="M1509.8,723.1L1519.0,704.6L1500.5,704.6Z" fill="#0000ff"/><path d="M1532.9,710.6L1542.1,692.1L1523.6,692.1Z" fill="#0000ff"/><path d="M1556.0,710.6L1565.2,692.1L1546.7,692.1Z" fill="#0000ff"/><path d="M1579.1,675.5L1588.4,657.0L1569.9,657.0Z" fill="#0000ff"/><path d="M1602.2,651.0L1611.5,632.5L1593.0,632.5Z" fill="#0000ff"/><path d="M1625.3,640.8L1634.6,622.2L1616.1,622.2Z" fill="#0000ff"/><path d="M1648.5,638.5L1657.7,620.0L1639.2,620.0Z" fill="#0000ff"/><path d="M1671.6,599.5L1680.8,581.0L1662.3,581.0Z" fill="#0000ff"/><path d="M1694.7,589.2L1703.9,570.8L1685.4,570.8Z" fill="#0000ff"/><path d="M1717.8,576.5L1727.1,558.0L1708.6,558.0Z" fill="#0000ff"/><path d="M1740.9,566.4L1750.2,547.9L1731.7,547.9Z" fill="#0000ff"/><path d="M1764.0,475.6L1773.3,457.1L1754.8,457.1Z" fill="#0000ff"/><path d="M1787.2,463.1L1796.4,444.6L1777.9,444.6Z" fill="#0000ff"/><path d="M1810.3,450.6L1819.5,432.1L1801.0,432.1Z" fill="#0000ff"/><path d="M1833.4,450.6L1842.6,432.1L1824.1,432.1Z" fill="#0000ff"/><path d="M1856.5,452.4L1865.8,433.9L1847.3,433.9Z" fill="#0000ff"/><path d="M1879.6,386.8L1888.9,368.2L1870.4,368.2Z" fill="#0000ff"/><path d="M1902.7,386.8L1912.0,368.2L1893.5,368.2Z" fill="#0000ff"/><path d="M1925.9,386.8L1935.1,368.2L1916.6,368.2Z" fill="#0000ff"/><path d="M353.9,1110.1L366.3,1122.5L353.9,1134.9L341.5,1122.5Z" fill="#000000"/><path d="M377.0,1107.9L389.4,1120.3L377.0,1132.7L364.6,1120.3Z" fill="#000000"/><path d="M400.1,1077.1L412.5,1089.5L400.1,1101.9L387.8,1089.5Z" fill="#000000"/><path d="M423.3,1060.6L435.6,1073.0L423.3,1085.4L410.9,1073.0Z" fill="#000000"/><path d="M446.4,1068.8L458.7,1081.2L446.4,1093.6L434.0,1081.2Z" fill="#000000"/><path d="M469.5,1061.3L481.9,1073.7L469.5,1086.1L457.1,1073.7Z" fill="#000000"/><path d="M492.6,1066.6L505.0,1079.0L492.6,1091.4L480.2,1079.0Z" fill="#000000"/><path d="M515.7,1059.4L528.1,1071.8L515.7,1084.2L503.3,1071.8Z" fill="#000000"/><path d="M538.8,1059.9L551.2,1072.3L538.8,1084.7L526.5,1072.3Z" fill="#000000"/><path d="M562.0,1049.6L574.3,1062.0L562.0,1074.4L549.6,1062.0Z" fill="#000000"/><path d="M585.1,1018.6L597.4,1031.0L585.1,1043.4L572.7,1031.0Z" fill="#000000"/><path d="M608.2,1018.6L620.6,1031.0L608.2,1043.4L595.8,1031.0Z" fill="#000000"/><path d="M631.3,1044.6L643.7,1057.0L631.3,1069.4L618.9,1057.0Z" fill="#000000"/><path d="M654.4,1019.6L666.8,1032.0L654.4,1044.4L642.0,1032.0Z" fill="#000000"/><path d="M677.5,1026.6L689.9,1039.0L677.5,1051.4L665.2,1039.0Z" fill="#000000"/><path d="M700.7,1026.6L713.0,1039.0L700.7,1051.4L688.3,1039.0Z" fill="#000000"/><path d="M723.8,1026.6L736.1,1039.0L723.8,1051.4L711.4,1039.0Z" fill="#000000"/><path d="M746.9,1026.6L759.3,1039.0L746.9,1051.4L734.5,1039.0Z" fill="#000000"/><path d="M770.0,1048.6L782.4,1061.0L770.0,1073.4L757.6,1061.0Z" fill="#000000"/><path d="M793.1,1061.1L805.5,1073.5L793.1,1085.9L780.8,1073.5Z" fill="#000000"/><path d="M816.2,1053.1L828.6,1065.5L816.2,1077.9L803.9,1065.5Z" fill="#000000"/><path d="M839.4,1037.7L851.7,1050.1L839.4,1062.5L827.0,1050.1Z" fill="#000000"/><path d="M862.5,1032.3L874.8,1044.7L862.5,1057.1L850.1,1044.7Z" fill="#000000"/><path d="M885.6,1032.3L898.0,1044.7L885.6,1057.1L873.2,1044.7Z" fill="#000000"/><path d="M908.7,1033.9L921.1,1046.3L908.7,1058.7L896.3,1046.3Z" fill="#000000"/><path d="M931.8,1017.7L944.2,1030.1L931.8,1042.5L919.5,1030.1Z" fill="#000000"/><path d="M954.9,980.7L967.3,993.1L954.9,1005.5L942.6,993.1Z" fill="#000000"/><path d="M978.1,967.6L990.4,980.0L978.1,992.4L965.7,980.0Z" fill="#000000"/><path d="M1001.2,917.6L1013.5,930.0L1001.2,942.4L988.8,930.0Z" fill="#000000"/><path d="M1024.3,916.3L1036.7,928.7L1024.3,941.1L1011.9,928.7Z" fill="#000000"/><path d="M1047.4,889.4L1059.8,901.8L1047.4,914.2L1035.0,901.8Z" fill="#000000"/><path d="M1070.5,838.0L1082.9,850.4L1070.5,862.8L1058.2,850.4Z" fill="#000000"/><path d="M1093.6,773.6L1106.0,786.0L1093.6,798.4L1081.3,786.0Z" fill="#000000"/><path d="M1116.8,756.6L1129.1,769.0L1116.8,781.4L1104.4,769.0Z" fill="#000000"/><path d="M1139.9,778.6L1152.3,791.0L1139.9,803.4L1127.5,791.0Z" fill="#000000"/><path d="M1163.0,812.4L1175.4,824.8L1163.0,837.2L1150.6,824.8Z" fill="#000000"/><path d="M1186.1,772.0L1198.5,784.4L1186.1,796.8L1173.7,784.4Z" fill="#000000"/><path d="M1209.2,771.6L1221.6,784.0L1209.2,796.4L1196.9,784.0Z" fill="#000000"/><path d="M1232.3,763.1L1244.7,775.5L1232.3,787.9L1220.0,775.5Z" fill="#000000"/><path d="M1255.5,759.3L1267.8,771.7L1255.5,784.1L1243.1,771.7Z" fill="#000000"/><path d="M1278.6,759.3L1291.0,771.7L1278.6,784.1L1266.2,771.7Z" fill="#000000"/><path d="M1301.7,759.3L1314.1,771.7L1301.7,784.1L1289.3,771.7Z" fill="#000000"/><path d="M1324.8,757.4L1337.2,769.8L1324.8,782.2L1312.4,769.8Z" fill="#000000"/><path d="M1347.9,753.2L1360.3,765.6L1347.9,778.0L1335.6,765.6Z" fill="#000000"/><path d="M1371.0,734.8L1383.4,747.2L1371.0,759.6L1358.7,747.2Z" fill="#000000"/><path d="M1394.2,651.0L1406.5,663.4L1394.2,675.8L1381.8,663.4Z" fill="#000000"/><path d="M1417.3,629.3L1429.7,641.7L1417.3,654.1L1404.9,641.7Z" fill="#000000"/><path d="M1440.4,612.9L1452.8,625.3L1440.4,637.7L1428.0,625.3Z" fill="#000000"/><path d="M1463.5,641.6L1475.9,654.0L1463.5,666.4L1451.1,654.0Z" fill="#000000"/><path d="M1486.6,636.0L1499.0,648.4L1486.6,660.8L1474.3,648.4Z" fill="#000000"/><path d="M1509.8,635.3L1522.1,647.7L1509.8,660.1L1497.4,647.7Z" fill="#000000"/><path d="M1532.9,619.1L1545.2,631.5L1532.9,643.9L1520.5,631.5Z" fill="#000000"/><path d="M1556.0,619.1L1568.4,631.5L1556.0,643.9L1543.6,631.5Z" fill="#000000"/><path d="M1579.1,583.9L1591.5,596.3L1579.1,608.7L1566.7,596.3Z" fill="#000000"/><path d="M1602.2,561.2L1614.6,573.6L1602.2,586.0L1589.8,573.6Z" fill="#000000"/><path d="M1625.3,544.5L1637.7,556.9L1625.3,569.3L1613.0,556.9Z" fill="#000000"/><path d="M1648.5,542.7L1660.8,555.1L1648.5,567.5L1636.1,555.1Z" fill="#000000"/><path d="M1671.6,517.9L1683.9,530.3L1671.6,542.7L1659.2,530.3Z" fill="#000000"/><path d="M1694.7,509.2L1707.1,521.6L1694.7,534.0L1682.3,521.6Z" fill="#000000"/><path d="M1717.8,497.1L1730.2,509.5L1717.8,521.9L1705.4,509.5Z" fill="#000000"/><path d="M1740.9,501.7L1753.3,514.1L1740.9,526.5L1728.5,514.1Z" fill="#000000"/><path d="M1764.0,408.4L1776.4,420.8L1764.0,433.2L1751.7,420.8Z" fill="#000000"/><path d="M1787.2,387.6L1799.5,400.0L1787.2,412.4L1774.8,400.0Z" fill="#000000"/><path d="M1810.3,378.6L1822.6,391.0L1810.3,403.4L1797.9,391.0Z" fill="#000000"/><path d="M1833.4,378.6L1845.8,391.0L1833.4,403.4L1821.0,391.0Z" fill="#000000"/><path d="M1856.5,371.6L1868.9,384.0L1856.5,396.4L1844.1,384.0Z" fill="#000000"/><path d="M1879.6,307.6L1892.0,320.0L1879.6,332.4L1867.2,320.0Z" fill="#000000"/><path d="M1902.7,307.6L1915.1,320.0L1902.7,332.4L1890.4,320.0Z" fill="#000000"/><path d="M1925.9,307.6L1938.2,320.0L1925.9,332.4L1913.5,320.0Z" fill="#000000"/><circle cx="353.9" cy="1114.4" r="8.65" fill="#bf00bf"/><circle cx="377.0" cy="1120.5" r="8.65" fill="#bf00bf"/><circle cx="400.1" cy="1087.5" r="8.65" fill="#bf00bf"/><circle cx="423.3" cy="1081.7" r="8.65" fill="#bf00bf"/><circle cx="446.4" cy="1078.0" r="8.65" fill="#bf00bf"/><circle cx="469.5" cy="1065.2" r="8.65" fill="#bf00bf"/><circle cx="492.6" cy="1073.8" r="8.65" fill="#bf00bf"/><circle cx="515.7" cy="1065.8" r="8.65" fill="#bf00bf"/><circle cx="538.8" cy="1065.0" r="8.65" fill="#bf00bf"/><circle cx="562.0" cy="1062.0" r="8.65" fill="#bf00bf"/><circle cx="585.1" cy="1034.0" r="8.65" fill="#bf00bf"/><circle cx="608.2" cy="1034.0" r="8.65" fill="#bf00bf"/><circle cx="631.3" cy="1057.5" r="8.65" fill="#bf00bf"/><circle cx="654.4" cy="1036.2" r="8.65" fill="#bf00bf"/><circle cx="677.5" cy="1040.0" r="8.65" fill="#bf00bf"/><circle cx="700.7" cy="1040.0" r="8.65" fill="#bf00bf"/><circle cx="723.8" cy="1040.0" r="8.65" fill="#bf00bf"/><circle cx="746.9" cy="1040.0" r="8.65" fill="#bf00bf"/><circle cx="770.0" cy="1061.0" r="8.65" fill="#bf00bf"/><circle cx="793.1" cy="1073.5" r="8.65" fill="#bf00bf"/><circle cx="816.2" cy="1065.5" r="8.65" fill="#bf00bf"/><circle cx="839.4" cy="1054.0" r="8.65" fill="#bf00bf"/><circle cx="862.5" cy="1054.0" r="8.65" fill="#bf00bf"/><circle cx="885.6" cy="1018.0" r="8.65" fill="#bf00bf"/><circle cx="908.7" cy="1029.3" r="8.65" fill="#bf00bf"/><circle cx="931.8" cy="1017.8" r="8.65" fill="#bf00bf"/><circle cx="954.9" cy="981.9" r="8.65" fill="#bf00bf"/><circle cx="978.1" cy="961.5" r="8.65" fill="#bf00bf"/><circle cx="1001.2" cy="909.0" r="8.65" fill="#bf00bf"/><circle cx="1024.3" cy="909.0" r="8.65" fill="#bf00bf"/><circle cx="1047.4" cy="855.6" r="8.65" fill="#bf00bf"/><circle cx="1070.5" cy="804.0" r="8.65" fill="#bf00bf"/><circle cx="1093.6" cy="740.1" r="8.65" fill="#bf00bf"/><circle cx="1116.8" cy="747.8" r="8.65" fill="#bf00bf"/><circle cx="1139.9" cy="772.5" r="8.65" fill="#bf00bf"/><circle cx="1163.0" cy="722.3" r="8.65" fill="#bf00bf"/><circle cx="1186.1" cy="689.2" r="8.65" fill="#bf00bf"/><circle cx="1209.2" cy="687.7" r="8.65" fill="#bf00bf"/><circle cx="1232.3" cy="679.4" r="8.65" fill="#bf00bf"/><circle cx="1255.5" cy="683.0" r="8.65" fill="#bf00bf"/><circle cx="1278.6" cy="683.0" r="8.65" fill="#bf00bf"/><circle cx="1301.7" cy="683.0" r="8.65" fill="#bf00bf"/><circle cx="1324.8" cy="680.9" r="8.65" fill="#bf00bf"/><circle cx="1347.9" cy="680.9" r="8.65" fill="#bf00bf"/><circle cx="1371.0" cy="663.5" r="8.65" fill="#bf00bf"/><circle cx="1394.2" cy="629.4" r="8.65" fill="#bf00bf"/><circle cx="1417.3" cy="688.8" r="8.65" fill="#bf00bf"/><circle cx="1440.4" cy="670.0" r="8.65" fill="#bf00bf"/><circle cx="1463.5" cy="654.0" r="8.65" fill="#bf00bf"/><circle cx="1486.6" cy="637.3" r="8.65" fill="#bf00bf"/><circle cx="1509.8" cy="636.0" r="8.65" fill="#bf00bf"/><circle cx="1532.9" cy="619.4" r="8.65" fill="#bf00bf"/><circle cx="1556.0" cy="619.4" r="8.65" fill="#bf00bf"/><circle cx="1579.1" cy="583.5" r="8.65" fill="#bf00bf"/><circle cx="1602.2" cy="558.5" r="8.65" fill="#bf00bf"/><circle cx="1625.3" cy="540.7" r="8.65" fill="#bf00bf"/><circle cx="1648.5" cy="540.7" r="8.65" fill="#bf00bf"/><circle cx="1671.6" cy="511.3" r="8.65" fill="#bf00bf"/><circle cx="1694.7" cy="516.5" r="8.65" fill="#bf00bf"/><circle cx="1717.8" cy="504.8" r="8.65" fill="#bf00bf"/><circle cx="1740.9" cy="514.8" r="8.65" fill="#bf00bf"/><circle cx="1764.0" cy="421.0" r="8.65" fill="#bf00bf"/><circle cx="1787.2" cy="401.0" r="8.65" fill="#bf00bf"/><circle cx="1810.3" cy="392.0" r="8.65" fill="#bf00bf"/><circle cx="1833.4" cy="392.0" r="8.65" fill="#bf00bf"/><circle cx="1856.5" cy="398.0" r="8.65" fill="#bf00bf"/><circle cx="1879.6" cy="335.8" r="8.65" fill="#bf00bf"/><circle cx="1902.7" cy="335.8" r="8.65" fill="#bf00bf"/><circle cx="1925.9" cy="335.8" r="8.65" fill="#bf00bf"/><rect x="345.1" y="1073.2" width="17.6" height="17.6" fill="#ffa500"/><rect x="368.2" y="1081.2" width="17.6" height="17.6" fill="#ffa500"/><rect x="391.3" y="1067.2" width="17.6" height="17.6" fill="#ffa500"/><rect x="414.5" y="1058.5" width="17.6" height="17.6" fill="#ffa500"/><rect x="437.6" y="1054.6" width="17.6" height="17.6" fill="#ffa500"/><rect x="460.7" y="1045.7" width="17.6" height="17.6" fill="#ffa500"/><rect x="483.8" y="1046.2" width="17.6" height="17.6" fill="#ffa500"/><rect x="506.9" y="1037.5" width="17.6" height="17.6" fill="#ffa500"/><rect x="530.0" y="1037.5" width="17.6" height="17.6" fill="#ffa500"/><rect x="553.2" y="1033.2" width="17.6" height="17.6" fill="#ffa500"/><rect x="576.3" y="1004.5" width="17.6" height="17.6" fill="#ffa500"/><rect x="599.4" y="1004.5" width="17.6" height="17.6" fill="#ffa500"/><rect x="622.5" y="1024.1" width="17.6" height="17.6" fill="#ffa500"/><rect x="645.6" y="1002.9" width="17.6" height="17.6" fill="#ffa500"/><rect x="668.7" y="1007.0" width="17.6" height="17.6" fill="#ffa500"/><rect x="691.9" y="1007.0" width="17.6" height="17.6" fill="#ffa500"/><rect x="715.0" y="1007.0" width="17.6" height="17.6" fill="#ffa500"/><rect x="738.1" y="1007.0" width="17.6" height="17.6" fill="#ffa500"/><rect x="761.2" y="1011.5" width="17.6" height="17.6" fill="#ffa500"/><rect x="784.3" y="931.2" width="17.6" height="17.6" fill="#ffa500"/><rect x="807.4" y="920.7" width="17.6" height="17.6" fill="#ffa500"/><rect x="830.6" y="912.2" width="17.6" height="17.6" fill="#ffa500"/><rect x="853.7" y="912.2" width="17.6" height="17.6" fill="#ffa500"/><rect x="876.8" y="877.2" width="17.6" height="17.6" fill="#ffa500"/><rect x="899.9" y="883.7" width="17.6" height="17.6" fill="#ffa500"/><rect x="923.0" y="872.9" width="17.6" height="17.6" fill="#ffa500"/><rect x="946.1" y="839.8" width="17.6" height="17.6" fill="#ffa500"/><rect x="969.3" y="839.8" width="17.6" height="17.6" fill="#ffa500"/><rect x="992.4" y="839.8" width="17.6" height="17.6" fill="#ffa500"/><rect x="1015.5" y="839.8" width="17.6" height="17.6" fill="#ffa500"/><rect x="1038.6" y="787.5" width="17.6" height="17.6" fill="#ffa500"/><rect x="1061.7" y="776.3" width="17.6" height="17.6" fill="#ffa500"/><rect x="1084.8" y="764.0" width="17.6" height="17.6" fill="#ffa500"/><rect x="1108.0" y="752.2" width="17.6" height="17.6" fill="#ffa500"/><rect x="1131.1" y="735.5" width="17.6" height="17.6" fill="#ffa500"/><rect x="1154.2" y="687.4" width="17.6" height="17.6" fill="#ffa500"/><rect x="1177.3" y="659.7" width="17.6" height="17.6" fill="#ffa500"/><rect x="1200.4" y="658.7" width="17.6" height="17.6" fill="#ffa500"/><rect x="1223.5" y="646.2" width="17.6" height="17.6" fill="#ffa500"/><rect x="1246.7" y="650.1" width="17.6" height="17.6" fill="#ffa500"/><rect x="1269.8" y="650.6" width="17.6" height="17.6" fill="#ffa500"/><rect x="1292.9" y="650.1" width="17.6" height="17.6" fill="#ffa500"/><rect x="1316.0" y="652.4" width="17.6" height="17.6" fill="#ffa500"/><rect x="1339.1" y="652.4" width="17.6" height="17.6" fill="#ffa500"/><rect x="1362.2" y="637.5" width="17.6" height="17.6" fill="#ffa500"/><rect x="1385.4" y="607.1" width="17.6" height="17.6" fill="#ffa500"/><rect x="1408.5" y="607.3" width="17.6" height="17.6" fill="#ffa500"/><rect x="1431.6" y="566.8" width="17.6" height="17.6" fill="#ffa500"/><rect x="1454.7" y="529.3" width="17.6" height="17.6" fill="#ffa500"/><rect x="1477.8" y="500.9" width="17.6" height="17.6" fill="#ffa500"/><rect x="1501.0" y="499.8" width="17.6" height="17.6" fill="#ffa500"/><rect x="1524.1" y="470.9" width="17.6" height="17.6" fill="#ffa500"/><rect x="1547.2" y="470.9" width="17.6" height="17.6" fill="#ffa500"/><rect x="1570.3" y="465.7" width="17.6" height="17.6" fill="#ffa500"/><rect x="1593.4" y="454.2" width="17.6" height="17.6" fill="#ffa500"/><rect x="1616.5" y="452.4" width="17.6" height="17.6" fill="#ffa500"/><rect x="1639.7" y="459.2" width="17.6" height="17.6" fill="#ffa500"/><rect x="1662.8" y="441.7" width="17.6" height="17.6" fill="#ffa500"/><rect x="1685.9" y="435.9" width="17.6" height="17.6" fill="#ffa500"/><rect x="1709.0" y="421.4" width="17.6" height="17.6" fill="#ffa500"/><rect x="1732.1" y="400.7" width="17.6" height="17.6" fill="#ffa500"/><rect x="1755.2" y="413.2" width="17.6" height="17.6" fill="#ffa500"/><rect x="1778.4" y="400.9" width="17.6" height="17.6" fill="#ffa500"/><rect x="1801.5" y="404.7" width="17.6" height="17.6" fill="#ffa500"/><rect x="1824.6" y="404.7" width="17.6" height="17.6" fill="#ffa500"/><rect x="1847.7" y="403.2" width="17.6" height="17.6" fill="#ffa500"/><rect x="1870.8" y="274.7" width="17.6" height="17.6" fill="#ffa500"/><rect x="1893.9" y="274.7" width="17.6" height="17.6" fill="#ffa500"/><rect x="1917.1" y="274.7" width="17.6" height="17.6" fill="#ffa500"/><rect x="302" y="82" width="566.5" height="391.5" rx="9" ry="9" fill="#fff" fill-opacity="0.8" stroke="#d4d4d4" stroke-width="8"/><path d="M374.5,112.7L387.8,139.2L361.2,139.2Z" fill="#000000"/><text transform="translate(466.27,138.71) scale(0.878,0.9944)" font-size="53">S1</text><path d="M374.5,214.3L387.8,187.8L361.2,187.8Z" fill="#bf00bf"/><text transform="translate(466.06,215.01) scale(0.948,0.9944)" font-size="53">S2</text><path d="M374.5,257.8L392.9,276.2L374.5,294.6L356.1,276.2Z" fill="#ff0000"/><text transform="translate(466.21,289.04) scale(0.898,0.9639)" font-size="53">S3</text><circle cx="374.5" cy="351.4" r="13.00" fill="#00bfbf"/><text transform="translate(466.15,364.08) scale(0.9151,1.025)" font-size="53">S4</text><rect x="361.8" y="413.8" width="25.5" height="25.5" fill="#bfbf00"/><text transform="translate(466.15,439.31) scale(0.9157,0.9944)" font-size="53">S5</text><path d="M676.0,112.7L689.2,139.2L662.8,139.2Z" fill="#008000"/><text transform="translate(769.9,138.71) scale(0.9327,0.9944)" font-size="53">S6</text><path d="M676.0,214.3L689.2,187.8L662.8,187.8Z" fill="#0000ff"/><text transform="translate(769.97,214.91) scale(0.9096,0.9944)" font-size="53">S7</text><path d="M676.0,257.8L694.4,276.2L676.0,294.6L657.6,276.2Z" fill="#000000"/><text transform="translate(769.94,288.84) scale(0.9196,0.9639)" font-size="53">S8</text><circle cx="676.0" cy="351.4" r="13.00" fill="#bf00bf"/><text transform="translate(769.89,363.81) scale(0.9373,0.9944)" font-size="53">S9</text><rect x="663.2" y="413.8" width="25.5" height="25.5" fill="#ffa500"/><text transform="translate(769.86,438.91) scale(0.9474,0.9944)" font-size="53">S10</text></g></svg></body></html>
